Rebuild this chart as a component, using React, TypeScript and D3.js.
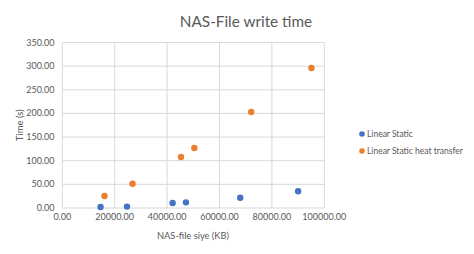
import React from "react";
import * as d3 from "d3";

const seriesNames = ["Linear Static", "Linear Static heat transfer"];
const colors = ["#4472C4", "#ED7D31"];
const staticX = [14600, 24700, 42100, 47200, 67900, 90000];
const staticY = [2, 3, 10.6, 12, 21.8, 35.3];
const heatX = [16100, 26800, 45300, 50400, 72100, 95100];
const heatY = [25.4, 51.4, 108, 127, 203, 296];
const xTicks = [0, 20000, 40000, 60000, 80000, 100000];
const yTicks = [0, 50, 100, 150, 200, 250, 300, 350];

const W = 474, H = 254;
const font = "Lato, 'Open Sans', sans-serif";
const textColor = "#595959";

export default function App() {
  const x = d3.scaleLinear().domain([0, 100000]).range([62.3, 324.3]);
  const y = d3.scaleLinear().domain([0, 350]).range([208, 42.5]);
  const series = [
    { xs: staticX, ys: staticY },
    { xs: heatX, ys: heatY },
  ];
  return (
    <svg width={W} height={H} style={{ position: "absolute", left: 0, top: 0, background: "#fff" }}>
      <rect x={0} y={0} width={W} height={H} fill="#fff" />
      <text x={246} y={27} textAnchor="middle" fontFamily={font} fontSize={15.3} fill={textColor}>
        NAS-File write time
      </text>
      {yTicks.map((t) => (
        <g key={"y" + t}>
          <line x1={x(0)} x2={x(100000)} y1={y(t)} y2={y(t)} stroke="#d9d9d9" strokeWidth={1} />
          <text x={54.5} y={y(t) + 3} textAnchor="end" fontFamily={font} fontSize={9} fill={textColor}>
            {d3.format(".2f")(t)}
          </text>
        </g>
      ))}
      {xTicks.map((t) => (
        <g key={"x" + t}>
          <line x1={x(t)} x2={x(t)} y1={y(0)} y2={y(350)} stroke="#d9d9d9" strokeWidth={1} />
          <text x={x(t)} y={220} textAnchor="middle" fontFamily={font} fontSize={9} fill={textColor}>
            {d3.format(".2f")(t)}
          </text>
        </g>
      ))}
      <text x={193} y={238.5} textAnchor="middle" fontFamily={font} fontSize={9.3} fill={textColor}>
        NAS-file siye (KB)
      </text>
      <text
        transform={`translate(23, ${(y(0) + y(350)) / 2}) rotate(-90)`}
        textAnchor="middle"
        fontFamily={font}
        fontSize={9.5}
        fill={textColor}
      >
        Time (s)
      </text>
      {series.map((s, si) =>
        s.xs.map((xv, i) => (
          <circle key={si + "-" + i} cx={x(xv)} cy={y(s.ys[i])} r={3.2} fill={colors[si]} />
        ))
      )}
      {seriesNames.map((n, i) => (
        <g key={n} transform={`translate(362, ${134 + i * 17})`}>
          <circle cx={0} cy={0} r={2.8} fill={colors[i]} />
          <text x={5} y={3.2} fontFamily={font} fontSize={8.5} fill={textColor}>
            {n}
          </text>
        </g>
      ))}
    </svg>
  );
}
